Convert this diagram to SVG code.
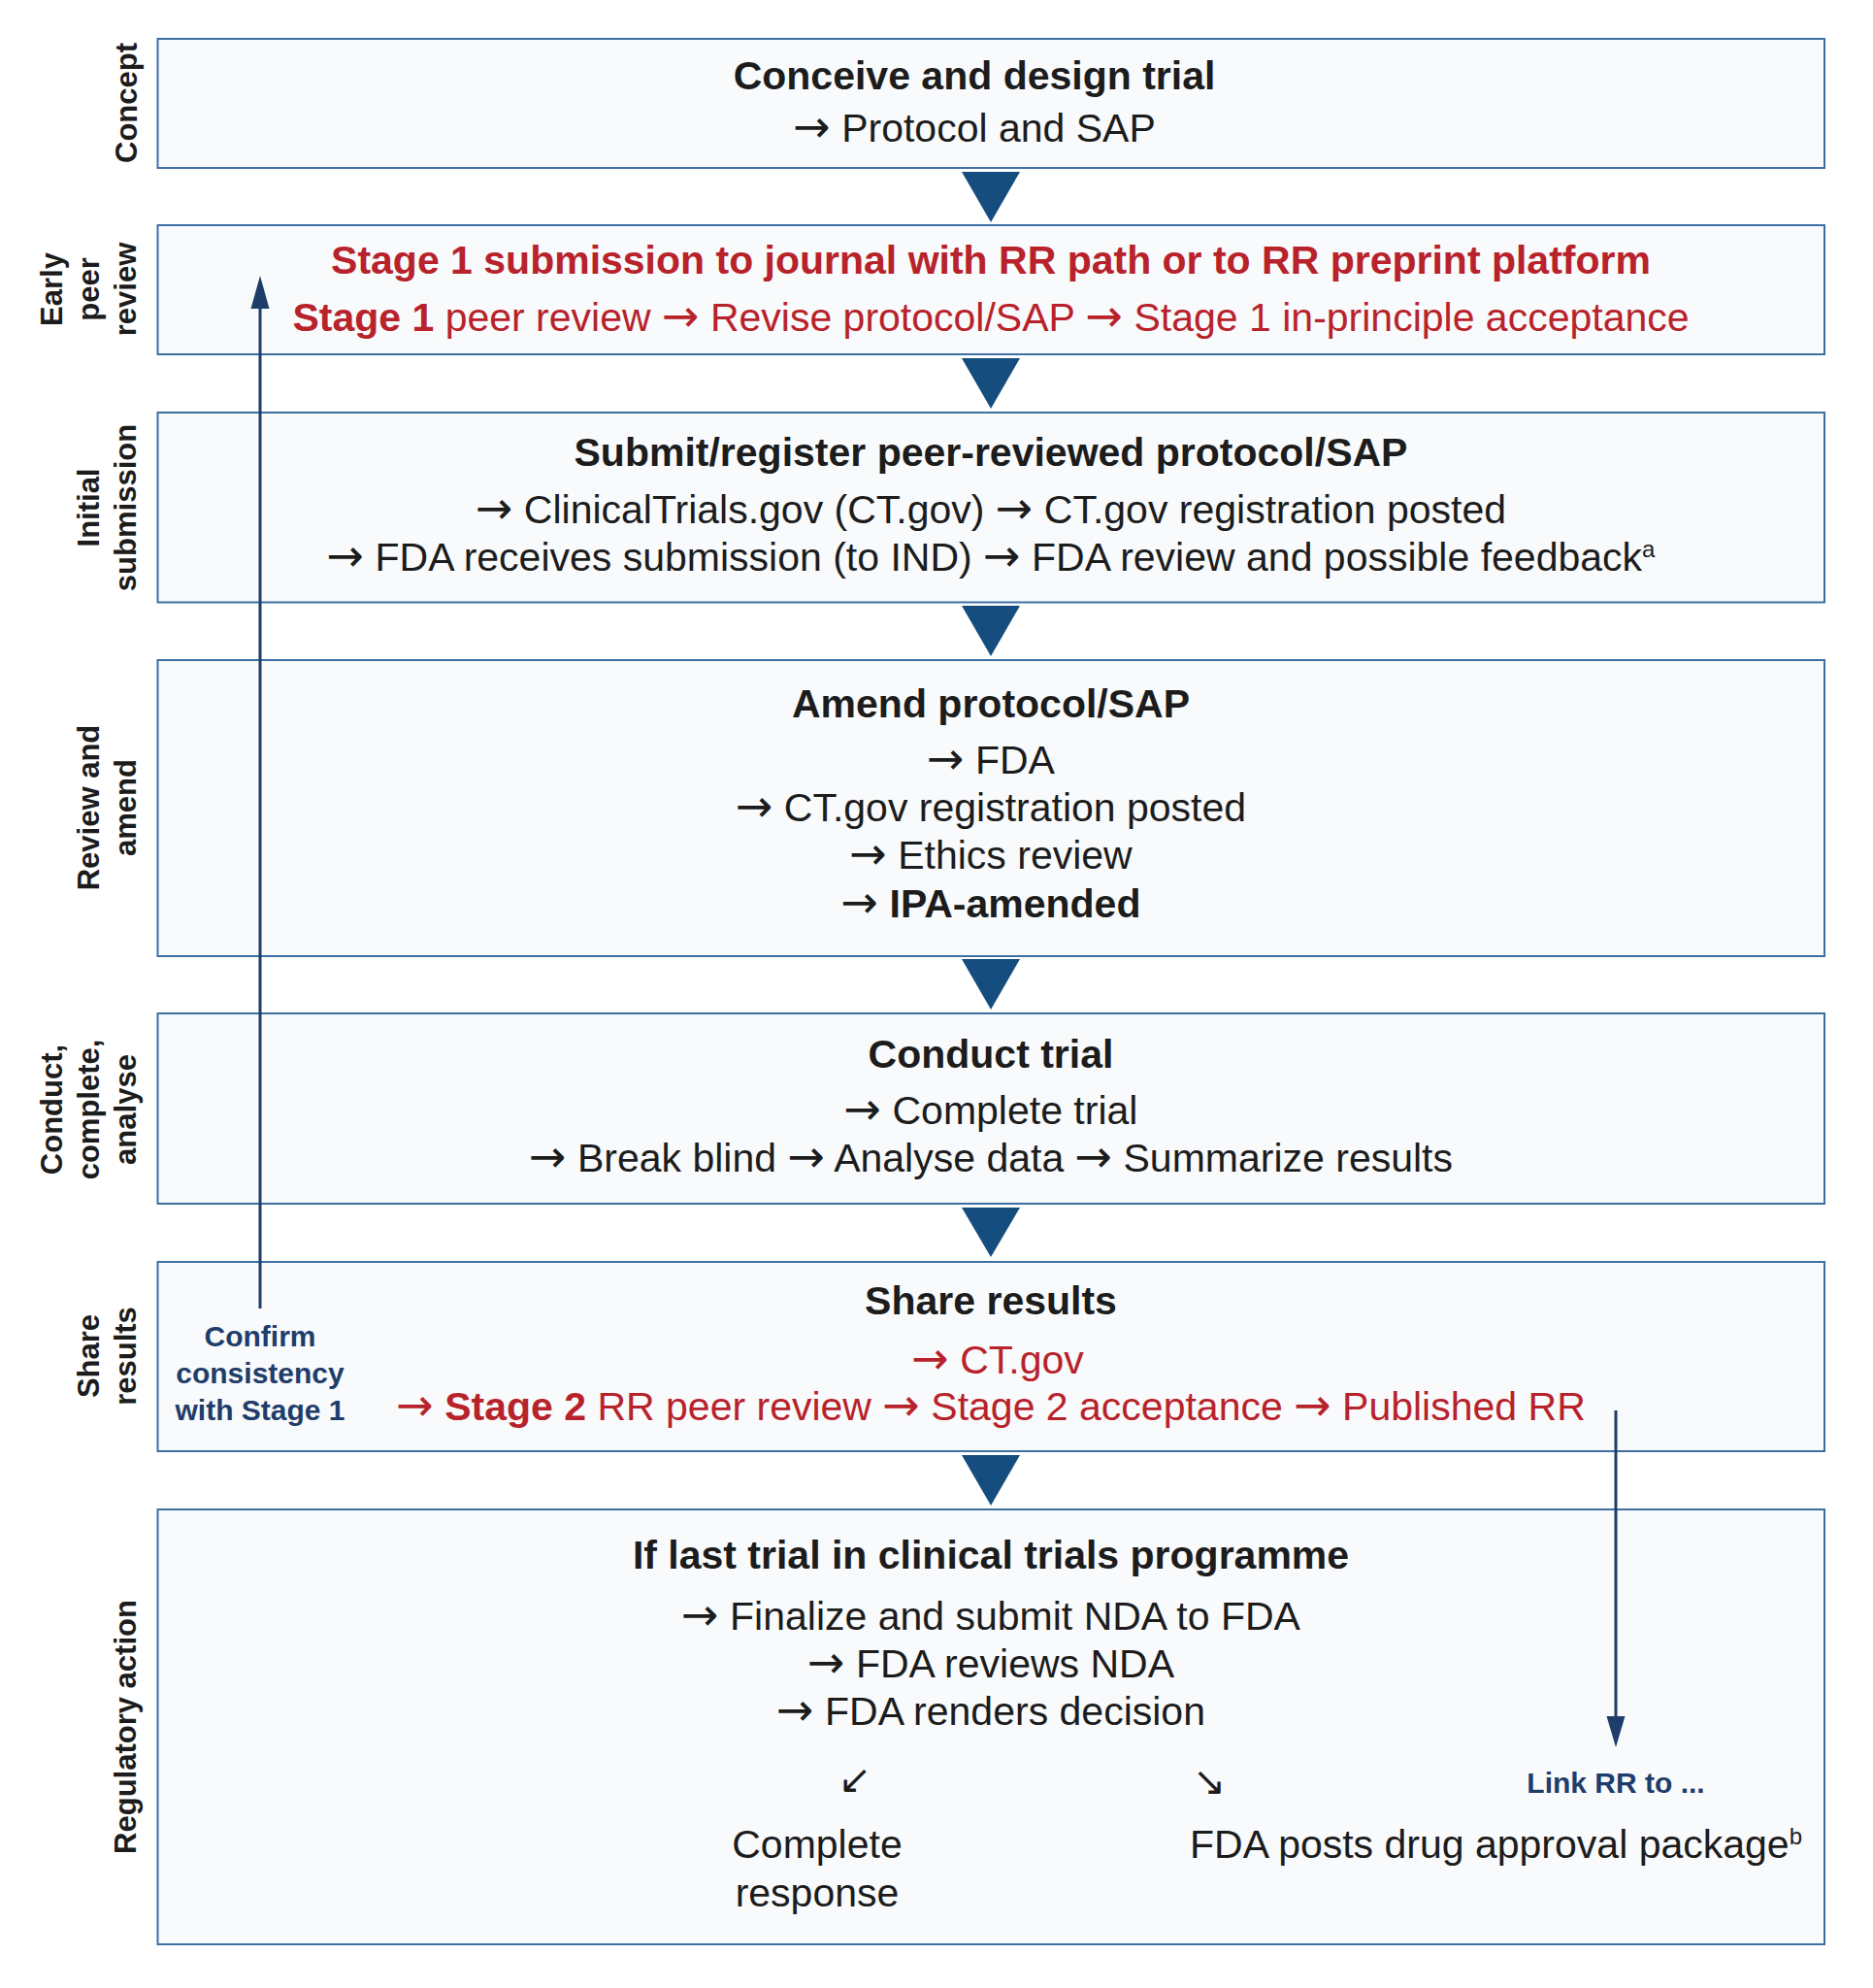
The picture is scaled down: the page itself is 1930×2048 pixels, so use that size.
<svg xmlns="http://www.w3.org/2000/svg" width="1930" height="2048" viewBox="0 0 1930 2048">
<style>
.box{fill:#f8fafc;stroke:#3d6fa3;stroke-width:2}
.tri{fill:#154e7e}
.t{font-family:"Liberation Sans",Arial,sans-serif;font-size:41px;fill:#1c1c1c;text-anchor:middle}
.b{font-weight:bold}
.red{fill:#b8222a}
.ar{font-family:"DejaVu Sans",sans-serif;font-weight:normal;font-size:46px}
.side{font-family:"Liberation Sans",Arial,sans-serif;font-size:31px;font-weight:bold;fill:#1c1c1c;text-anchor:middle}
.blue{font-family:"Liberation Sans",Arial,sans-serif;font-size:30px;font-weight:bold;fill:#1f3d6b;text-anchor:middle}
.conn{stroke:#1f3d6b;stroke-width:3;fill:none}
.head{fill:#1f3d6b}
.sup{font-size:24px}
</style>
<rect width="1930" height="2048" fill="#ffffff"/>

<g id="labels">
<text class="side" transform="translate(141,106) rotate(-90)">Concept</text>
<text class="side" transform="translate(64,298) rotate(-90)"><tspan x="0" y="0">Early</tspan><tspan x="0" y="38">peer</tspan><tspan x="0" y="76">review</tspan></text>
<text class="side" transform="translate(102,523) rotate(-90)"><tspan x="0" y="0">Initial</tspan><tspan x="0" y="38">submission</tspan></text>
<text class="side" transform="translate(102,832) rotate(-90)"><tspan x="0" y="0">Review and</tspan><tspan x="0" y="38">amend</tspan></text>
<text class="side" transform="translate(64,1143) rotate(-90)"><tspan x="0" y="0">Conduct,</tspan><tspan x="0" y="38">complete,</tspan><tspan x="0" y="76">analyse</tspan></text>
<text class="side" transform="translate(102,1397) rotate(-90)"><tspan x="0" y="0">Share</tspan><tspan x="0" y="38">results</tspan></text>
<text class="side" transform="translate(140,1779) rotate(-90)">Regulatory action</text>
</g>

<g id="concept">
<rect class="box" x="162.5" y="40" width="1717.5" height="133"/>
<text class="t b" x="1004" y="92">Conceive and design trial</text>
<text class="t" x="1004" y="146"><tspan class="ar">→</tspan> Protocol and SAP</text>
</g>

<g id="early-peer-review">
<rect class="box" x="162.5" y="232" width="1717.5" height="133"/>
<text class="t b red" x="1021" y="282">Stage 1 submission to journal with RR path or to RR preprint platform</text>
<text class="t red" x="1021" y="341"><tspan class="b">Stage 1</tspan> peer review <tspan class="ar">→</tspan> Revise protocol/SAP <tspan class="ar">→</tspan> Stage 1 in-principle acceptance</text>
</g>

<g id="initial-submission">
<rect class="box" x="162.5" y="425" width="1717.5" height="195.5"/>
<text class="t b" x="1021" y="480">Submit/register peer-reviewed protocol/SAP</text>
<text class="t" x="1021" y="539"><tspan class="ar">→</tspan> ClinicalTrials.gov (CT.gov) <tspan class="ar">→</tspan> CT.gov registration posted</text>
<text class="t" x="1021" y="588"><tspan class="ar">→</tspan> FDA receives submission (to IND) <tspan class="ar">→</tspan> FDA review and possible feedback<tspan class="sup" dy="-14">a</tspan></text>
</g>

<g id="review-amend">
<rect class="box" x="162.5" y="680" width="1717.5" height="305"/>
<text class="t b" x="1021" y="739">Amend protocol/SAP</text>
<text class="t" x="1021" y="797"><tspan class="ar">→</tspan> FDA</text>
<text class="t" x="1021" y="846"><tspan class="ar">→</tspan> CT.gov registration posted</text>
<text class="t" x="1021" y="895"><tspan class="ar">→</tspan> Ethics review</text>
<text class="t" x="1021" y="945"><tspan class="ar">→</tspan> <tspan class="b">IPA-amended</tspan></text>
</g>

<g id="conduct">
<rect class="box" x="162.5" y="1044" width="1717.5" height="196"/>
<text class="t b" x="1021" y="1100">Conduct trial</text>
<text class="t" x="1021" y="1158"><tspan class="ar">→</tspan> Complete trial</text>
<text class="t" x="1021" y="1207"><tspan class="ar">→</tspan> Break blind <tspan class="ar">→</tspan> Analyse data <tspan class="ar">→</tspan> Summarize results</text>
</g>

<g id="share-results">
<rect class="box" x="162.5" y="1300" width="1717.5" height="195"/>
<text class="t b" x="1021" y="1354">Share results</text>
<text class="t red" x="1028" y="1415"><tspan class="ar">→</tspan> CT.gov</text>
<text class="t red" x="1021" y="1463"><tspan class="ar">→</tspan> <tspan class="b">Stage 2</tspan> RR peer review <tspan class="ar">→</tspan> Stage 2 acceptance <tspan class="ar">→</tspan> Published RR</text>
<text class="blue" x="268" y="1387">Confirm</text>
<text class="blue" x="268" y="1425">consistency</text>
<text class="blue" x="268" y="1463">with Stage 1</text>
</g>

<g id="regulatory-action">
<rect class="box" x="162.5" y="1555" width="1717.5" height="448"/>
<text class="t b" x="1021" y="1616">If last trial in clinical trials programme</text>
<text class="t" x="1021" y="1679"><tspan class="ar">→</tspan> Finalize and submit NDA to FDA</text>
<text class="t" x="1021" y="1728"><tspan class="ar">→</tspan> FDA reviews NDA</text>
<text class="t" x="1021" y="1777"><tspan class="ar">→</tspan> FDA renders decision</text>
<text class="t" x="881" y="1847" style="font-family:'Liberation Sans','DejaVu Sans',sans-serif">↙</text>
<text class="t" x="1246" y="1849" style="font-family:'Liberation Sans','DejaVu Sans',sans-serif">↘</text>
<text class="t" x="842" y="1914">Complete</text>
<text class="t" x="842" y="1964">response</text>
<text class="t" x="1226" y="1914" style="text-anchor:start">FDA posts drug approval package<tspan class="sup" dy="-14">b</tspan></text>
<text class="blue" x="1665" y="1847">Link RR to ...</text>
</g>

<g id="connectors">
<polygon class="tri" points="991,177 1051,177 1021,229"/>
<polygon class="tri" points="991,369 1051,369 1021,421"/>
<polygon class="tri" points="991,624 1051,624 1021,676"/>
<polygon class="tri" points="991,988 1051,988 1021,1040"/>
<polygon class="tri" points="991,1244 1051,1244 1021,1295"/>
<polygon class="tri" points="991,1499 1051,1499 1021,1551"/>
<line class="conn" x1="268" y1="1348" x2="268" y2="312"/>
<polygon class="head" points="268,284 277.5,318 258.5,318"/>
<line class="conn" x1="1665" y1="1453" x2="1665" y2="1772"/>
<polygon class="head" points="1665,1800 1674.5,1768 1655.5,1768"/>
</g>
</svg>
